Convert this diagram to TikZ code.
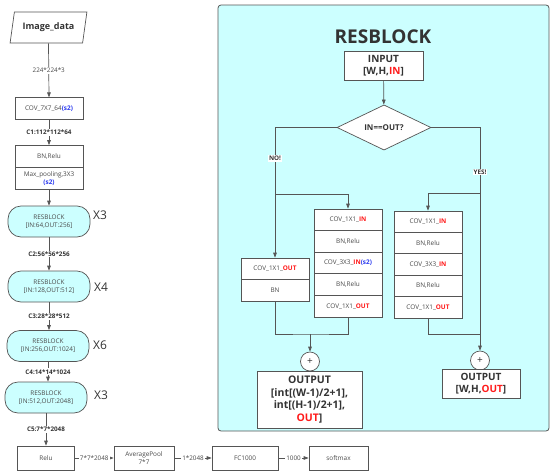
\documentclass[tikz,border=0pt]{standalone}
\usepackage{fontspec}
\setmainfont{Open Sans}
\usetikzlibrary{shapes.geometric,arrows.meta}
\definecolor{cyanbg}{HTML}{CCFFFF}
\definecolor{linec}{HTML}{555555}
\definecolor{txtc}{HTML}{4A4A4A}
\definecolor{darkc}{HTML}{333333}
\definecolor{redc}{HTML}{FF1A1A}
\definecolor{bluec}{HTML}{2B3BF0}
\newcommand{\rd}[1]{\textcolor{redc}{\textbf{#1}}}
\newcommand{\bl}[1]{\textcolor{bluec}{\textbf{#1}}}
\begin{document}
\begin{tikzpicture}[x=1pt,y=1pt]
                \tikzstyle{every node}+=[inner sep=0pt]
                \tikzstyle{box}=[draw=linec, line width=0.7pt, fill=white, minimum width=68pt, minimum height=21.5pt, text=txtc, font=\fontsize{6.4}{8}\selectfont, align=center]
                \tikzstyle{rblk}=[box, fill=cyanbg, rounded corners=13pt, minimum width=82pt, minimum height=31pt]
                \tikzstyle{bigbox}=[box, text=darkc, font=\bfseries\fontsize{10}{12}\selectfont]
                \tikzstyle{lbl}=[fill=white, inner sep=1pt, text=darkc, font=\bfseries\fontsize{6.3}{7}\selectfont]
                \tikzstyle{edgelbl}=[fill=white, inner sep=1pt, text=txtc, font=\fontsize{6.3}{7}\selectfont]
                \tikzstyle{times}=[text=darkc, font=\fontsize{12}{12}\selectfont]
                \tikzstyle{arr}=[draw=linec, line width=0.7pt, -{Triangle[length=5pt,width=3.6pt]}]
                \tikzstyle{ln}=[draw=linec, line width=0.7pt]
                \useasboundingbox (0,0) rectangle (554,-474);
                % main column
                \node [trapezium, trapezium left angle=70, trapezium right angle=110, trapezium stretches=true, draw=linec, line width=0.7pt, minimum width=77pt, minimum height=31pt, text=darkc, font=\bfseries\fontsize{9}{10}\selectfont] (img) at (48.5,-27.5) {Image\_data};
                \node [box] (cov) at (49,-108.5) {COV\_7X7\_64\bl{(s2)}};
                \node [box, minimum height=22pt] (bn1) at (49,-156.5) {BN,Relu};
                \node [box, minimum height=22pt] (mp) at (49,-178.5) {Max\_pooling,3X3\\\bl{(s2)}};
                \node [rblk] (rb1) at (49,-221.5) {RESBLOCK\\{}[IN:64,OUT:256]};
                \node [rblk] (rb2) at (49,-286.5) {RESBLOCK\\{}[IN:128,OUT:512]};
                \node [rblk] (rb3) at (48,-346) {RESBLOCK\\{}[IN:256,OUT:1024]};
                \node [rblk] (rb4) at (46,-397.5) {RESBLOCK\\{}[IN:512,OUT:2048]};
                \node [times] (x1) at (100,-215) {X3};
                \node [times] (x2) at (101,-287) {X4};
                \node [times] (x3) at (100,-345) {X6};
                \node [times] (x4) at (101,-395) {X3};
                \draw [arr] (img.south) -- node[edgelbl] {224*224*3} (cov.north);
                \draw [arr] (cov) -- node[lbl] {C1:112*112*64} (bn1);
                \draw [arr] (mp) -- (rb1);
                \draw [arr] (rb1) -- node[lbl] {C2:56*56*256} (rb2);
                \draw [arr] (rb2.south) -- node[lbl] {C3:28*28*512} (rb2.south|-rb3.north);
                \draw [arr] (rb3.south) -- node[lbl] {C4:14*14*1024} (rb3.south|-rb4.north);
                % bottom row
                \node [box, minimum width=57pt, minimum height=24pt] (relu) at (46,-458) {Relu};
                \node [box, minimum width=60pt, minimum height=24pt] (avg) at (144,-458) {AveragePool\\7*7};
                \node [box, minimum width=66pt, minimum height=24pt] (fc) at (245,-458) {FC1000};
                \node [box, minimum width=59pt, minimum height=24pt] (smax) at (338.5,-458) {softmax};
                \draw [arr] (rb4) -- node[lbl] {C5:7*7*2048} (relu);
                \draw [arr] (relu) -- node[edgelbl] {7*7*2048} (avg);
                \draw [arr] (avg) -- node[edgelbl] {1*2048} (fc);
                \draw [arr] (fc) -- node[edgelbl] {1000} (smax);
                % resblock panel
                \draw [draw=linec, line width=0.8pt, fill=cyanbg, rounded corners=3pt] (218,-5) rectangle (549,-431);
                \node [text=darkc, font=\bfseries\fontsize{19}{20}\selectfont] (title) at (383,-37) {RESBLOCK};
                \node [bigbox, minimum width=79pt, minimum height=29pt] (inp) at (383.5,-65.5) {INPUT\\{}[W,H,\rd{IN}]};
                \node [diamond, draw=linec, line width=0.7pt, fill=white, minimum width=94pt, minimum height=35pt, text=darkc, font=\bfseries\fontsize{8}{9}\selectfont] (dia) at (384,-127.5) {IN==OUT?};
                \draw [arr] (inp) -- (dia);
                % shortcut
                \node [box] (sc1) at (275,-268.75) {COV\_1X1\_\rd{OUT}};
                \node [box] (sc2) at (275,-290.25) {BN};
                % left branch
                \node [box, minimum height=21.6pt] (m1) at (348,-219.8) {COV\_1X1\_\rd{IN}};
                \node [box, minimum height=21.6pt] (m2) at (348,-241.4) {BN,Relu};
                \node [box, minimum height=21.6pt] (m3) at (348,-263) {COV\_3X3\_\rd{IN}\bl{(s2)}};
                \node [box, minimum height=21.6pt] (m4) at (348,-284.6) {BN,Relu};
                \node [box, minimum height=21.6pt] (m5) at (348,-306.2) {COV\_1X1\_\rd{OUT}};
                % right branch
                \node [box, minimum height=21.4pt] (r1) at (428,-221.7) {COV\_1X1\_\rd{IN}};
                \node [box, minimum height=21.4pt] (r2) at (428,-243.1) {BN,Relu};
                \node [box, minimum height=21.4pt] (r3) at (428,-264.5) {COV\_3X3\_\rd{IN}};
                \node [box, minimum height=21.4pt] (r4) at (428,-285.9) {BN,Relu};
                \node [box, minimum height=21.4pt] (r5) at (428,-307.3) {COV\_1X1\_\rd{OUT}};
                % sums and outputs
                \node [circle, draw=linec, line width=0.7pt, fill=white, minimum size=19pt, text=darkc, font=\fontsize{10}{10}\selectfont] (plusL) at (310,-361.5) {+};
                \node [circle, draw=linec, line width=0.7pt, fill=white, minimum size=19pt, text=darkc, font=\fontsize{10}{10}\selectfont] (plusR) at (480,-360.5) {+};
                \node [bigbox, minimum width=105pt, minimum height=57pt, font=\bfseries\fontsize{10.5}{12.5}\selectfont] (outL) at (309.5,-399.5) {OUTPUT\\{}[int[(W-1)/2+1],\\int[(H-1)/2+1],\\\rd{OUT}]};
                \node [bigbox, minimum width=78pt, minimum height=29pt] (outR) at (481,-384) {OUTPUT\\{}[W,H,\rd{OUT}]};
                \coordinate (nb) at (275,-194);
                \coordinate (yb) at (480,-193);
                \coordinate (jl) at (310,-334);
                \coordinate (jr) at (480,-334);
                \draw [arr] (dia.west) -| node[lbl, pos=0.62] {NO!} (sc1.north);
                \draw [arr] (nb) -| (m1.north);
                \draw [arr] (dia.east) -| node[lbl, pos=0.6] {YES!} (plusR.north);
                \draw [arr] (yb) -| (r1.north);
                \draw [ln] (sc2.south) |- (jl) -| (m5.south);
                \draw [arr] (jl) -- (plusL.north);
                \draw [ln] (r5.south) |- (jr);
            \end{tikzpicture}
\end{document}
